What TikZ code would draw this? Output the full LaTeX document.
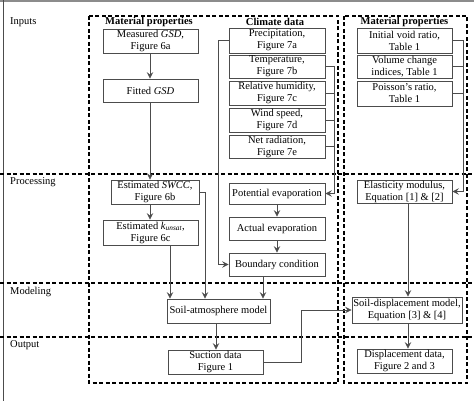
\documentclass[tikz,border=0pt]{standalone}
\usepackage{fontspec}
\setmainfont{Liberation Serif}
\usetikzlibrary{arrows.meta,calc}
\begin{document}
\begin{tikzpicture}[x=1pt,y=-1pt,
  box/.style={draw=black!70, line width=0.8pt, align=center, inner sep=0pt,
    font=\fontsize{10.5}{12}\selectfont},
  hdr/.style={font=\fontsize{10.5}{12}\selectfont\bfseries, inner sep=0pt},
  lbl/.style={font=\fontsize{10.5}{12}\selectfont, anchor=west, inner sep=0pt},
  conn/.style={draw=black!70, line width=0.8pt},
  arr/.style={conn, -{Stealth[length=6.5pt,width=6.5pt,inset=2.5pt]}},
  dashbox/.style={draw=black, line width=1.3pt, dash pattern=on 4pt off 2.5pt}
]
\useasboundingbox (0,0) rectangle (474,401);
% outer frame
\fill[black!45] (0,0) rectangle (474,2.5);
\draw[black!70, line width=0.9pt] (3.5,0) -- (3.5,401);
% dashed frames
\draw[dashbox] (89,16) rectangle (338,383);
\draw[dashbox] (344,16) rectangle (467,383);
\draw[dashbox] (0,174) -- (474,174);
\draw[dashbox] (0,283) -- (474,283);
\draw[dashbox] (0,337) -- (474,337);
% row labels
\node[lbl] (linputs) at (10,22) {Inputs};
\node[lbl] (lproc) at (10,182) {Processing};
\node[lbl] (lmod) at (10,292) {Modeling};
\node[lbl] (lout) at (10,345) {Output};
% headers
\node[hdr] (h1) at (149,22) {Material properties};
\node[hdr] (h2) at (275,22) {Climate data};
\node[hdr] (h3) at (404.5,22) {Material properties};
% left column
\node[box, minimum width=95pt, minimum height=24pt] (mgsd) at (150.5,41) {Measured \textit{GSD},\\Figure 6a};
\node[box, minimum width=95pt, minimum height=23pt] (fgsd) at (150.5,90.5) {Fitted \textit{GSD}};
\node[box, minimum width=88pt, minimum height=24pt] (swcc) at (155,192) {Estimated \textit{SWCC},\\Figure 6b};
\node[box, minimum width=95pt, minimum height=25pt] (kun) at (150.5,232.5) {Estimated \textit{k}\textsubscript{\itshape unsat},\\Figure 6c};
\node[box, minimum width=103pt, minimum height=24pt] (sam) at (218.5,311) {Soil-atmosphere model};
\node[box, minimum width=95pt, minimum height=24pt] (suc) at (215.5,362) {Suction data\\Figure 1};
% climate column
\node[box, minimum width=96pt, minimum height=25pt] (prec) at (277,40.5) {Precipitation,\\Figure 7a};
\node[box, minimum width=96pt, minimum height=23pt] (temp) at (277,66.5) {Temperature,\\Figure 7b};
\node[box, minimum width=96pt, minimum height=24pt] (rh) at (277,93) {Relative humidity,\\Figure 7c};
\node[box, minimum width=96pt, minimum height=24pt] (wind) at (277,120) {Wind speed,\\Figure 7d};
\node[box, minimum width=96pt, minimum height=23pt] (nrad) at (277,146.5) {Net radiation,\\Figure 7e};
\node[box, minimum width=96pt, minimum height=21pt] (pot) at (277,193.5) {Potential evaporation};
\node[box, minimum width=96pt, minimum height=23pt] (act) at (277,228.5) {Actual evaporation};
\node[box, minimum width=96pt, minimum height=23pt] (bc) at (277,264.5) {Boundary condition};
% right column
\node[box, minimum width=95pt, minimum height=25pt] (ivr) at (404.5,40.5) {Initial void ratio,\\Table 1};
\node[box, minimum width=95pt, minimum height=23pt] (vci) at (404.5,66.5) {Volume change\\indices, Table 1};
\node[box, minimum width=95pt, minimum height=25pt] (pr) at (404.5,93.5) {Poisson's ratio,\\Table 1};
\node[box, minimum width=95pt, minimum height=23pt] (elas) at (404.5,191.5) {Elasticity modulus,\\Equation [1] \& [2]};
\node[box, minimum width=110pt, minimum height=26pt] (sdm) at (407,310) {Soil-displacement model,\\Equation [3] \& [4]};
\node[box, minimum width=95pt, minimum height=24pt] (disp) at (404.5,361) {Displacement data,\\Figure 2 and 3};
% helper coordinates
\coordinate (xa) at (150,0);
\coordinate (xk) at (170,0);
\coordinate (xs) at (205,0);
\coordinate (xb) at (263,0);
\coordinate (xm) at (216,0);
\coordinate (xp) at (218,0);
\coordinate (xt) at (334,0);
\coordinate (xu) at (301,0);
\coordinate (xr) at (463,0);
\coordinate (xe) at (408,0);
\coordinate (xc) at (277,0);
% connectors left
\draw[arr] (xa |- mgsd.south) -- (xa |- fgsd.north);
\draw[arr] (xa |- fgsd.south) -- (xa |- swcc.north);
\draw[arr] (xa |- swcc.south) -- (xa |- kun.north);
\draw[arr] (swcc.east) -| (xs |- sam.north);
\draw[arr] (xk |- kun.south) -- (xk |- sam.north);
\draw[arr] (xm |- sam.south) -- (xm |- suc.north);
% climate connectors
\draw[arr] (prec.west) -| (xp |- bc.west) -- (bc.west);
\draw[arr] (temp.east) -| (xt |- pot.east) -- (pot.east);
\draw[conn] (rh.east) -- (xt |- rh.east);
\draw[conn] (wind.east) -- (xt |- wind.east);
\draw[conn] (nrad.east) -- (xt |- nrad.east);
\draw[arr] (xc |- pot.south) -- (xc |- act.north);
\draw[arr] (xc |- act.south) -- (xc |- bc.north);
\draw[arr] (xb |- bc.south) -- (xb |- sam.north);
% right connectors
\draw[arr] (ivr.east) -| (xr |- elas.east) -- (elas.east);
\draw[conn] (vci.east) -- (xr |- vci.east);
\draw[conn] (pr.east) -- (xr |- pr.east);
\draw[arr] (xe |- elas.south) -- (xe |- sdm.north);
\draw[arr] (xe |- sdm.south) -- (xe |- disp.north);
\draw[arr] (suc.east) -| (xu |- sdm.west) -- (sdm.west);
\end{tikzpicture}
\end{document}
